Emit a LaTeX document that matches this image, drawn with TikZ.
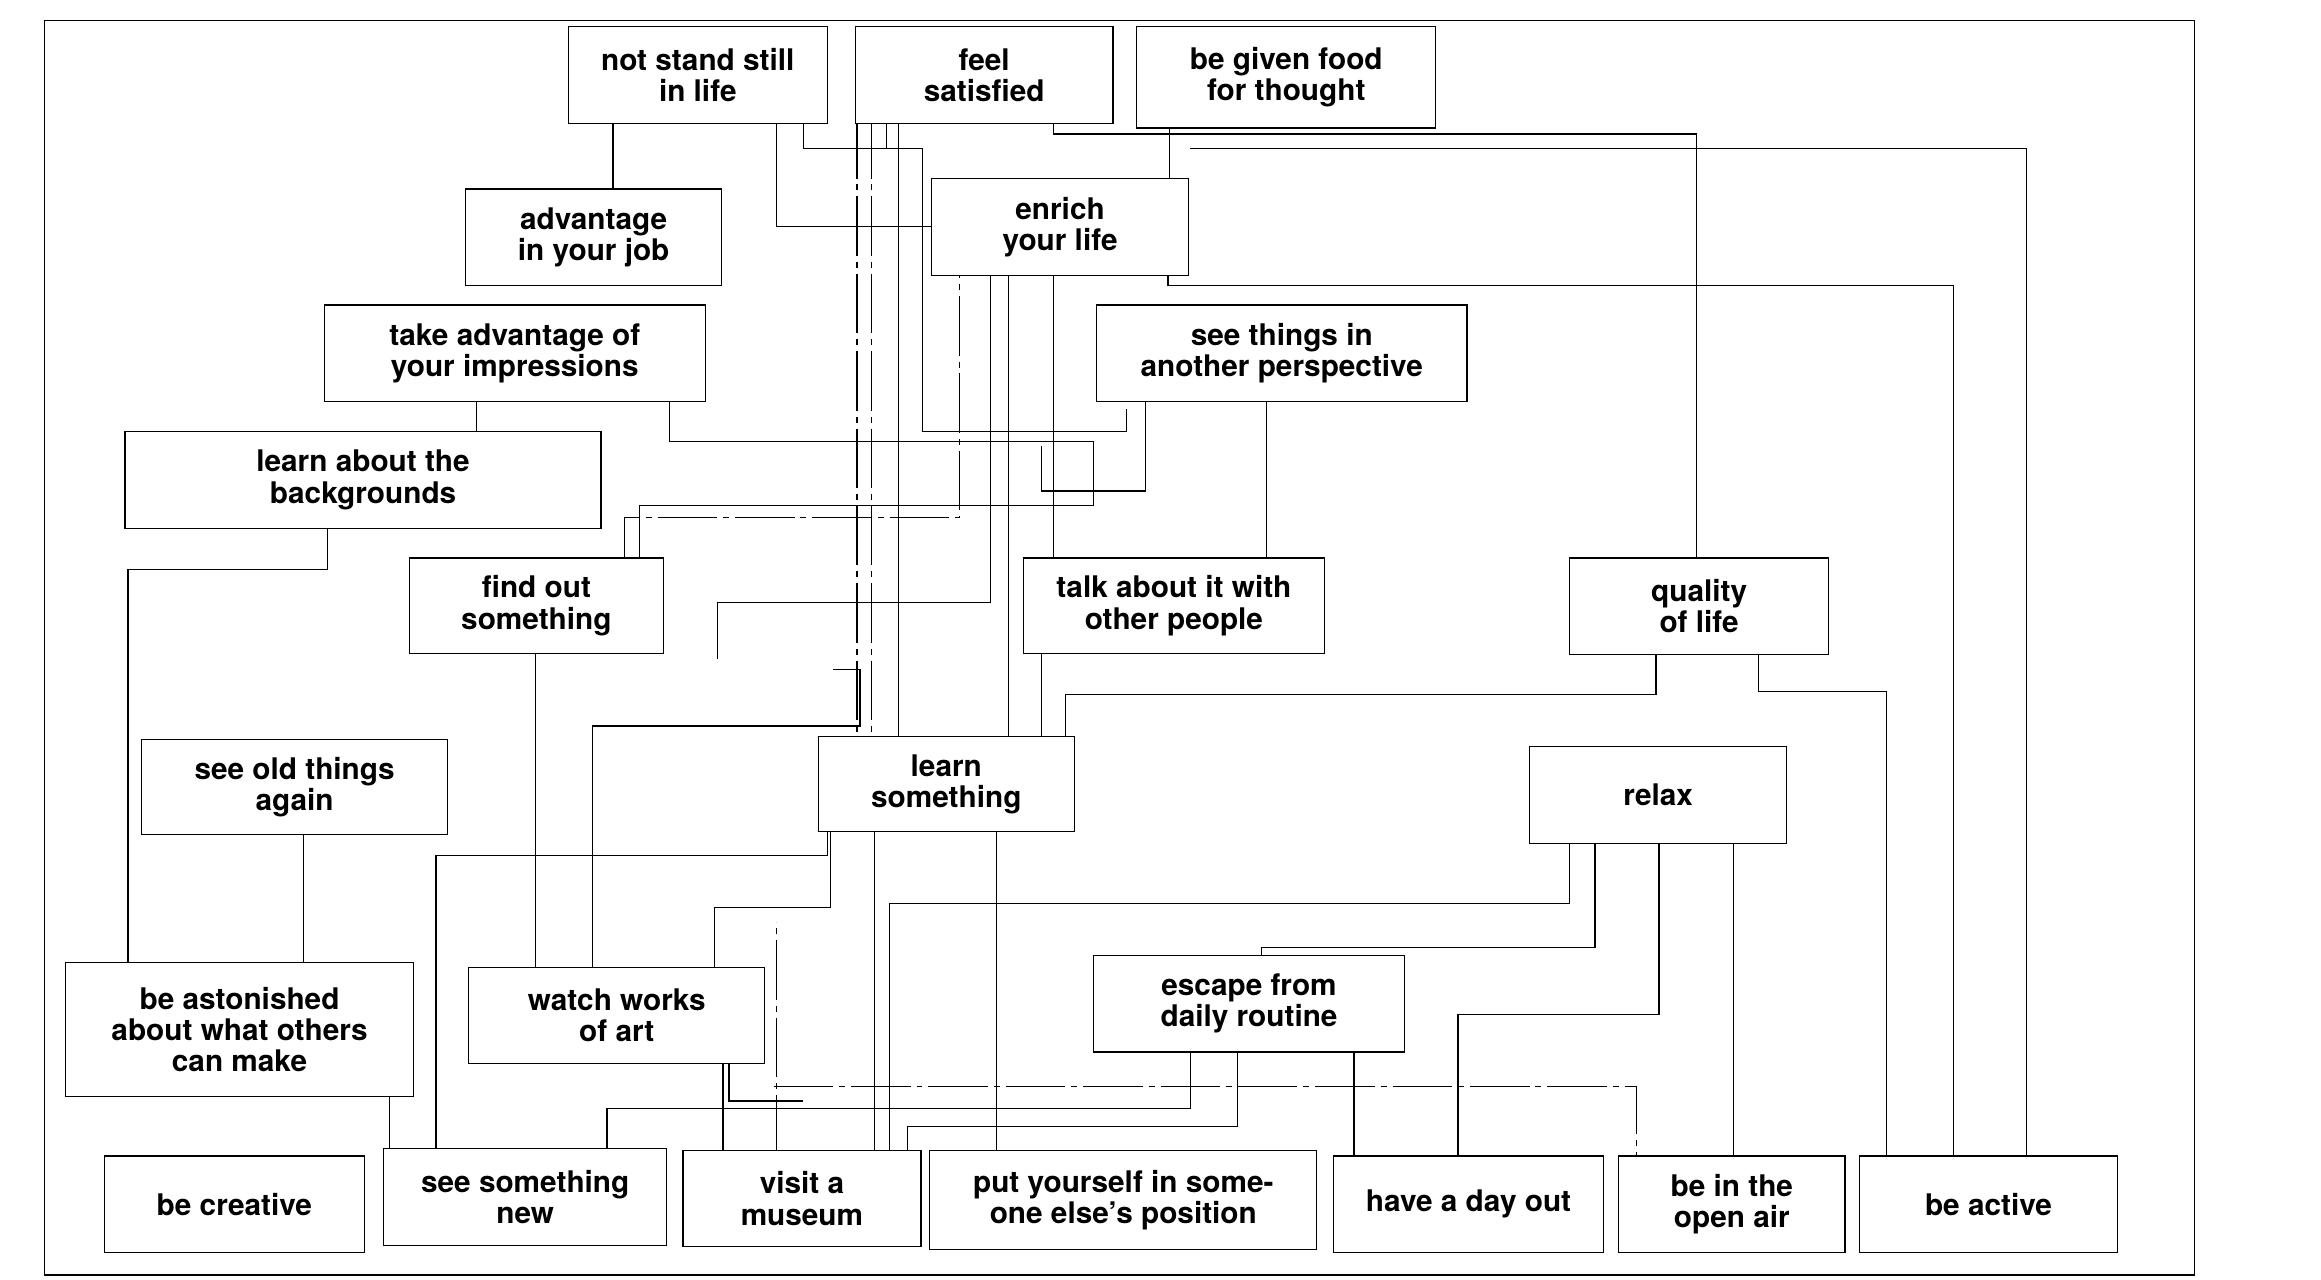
\documentclass[tikz,border=0pt]{standalone}
\usepackage{fontspec}
\setmainfont{TeX Gyre Heros}
\begin{document}
\begin{tikzpicture}[x=1pt,y=-1pt,
 box/.style={draw,thick,fill=white,align=center,font=\bfseries\fontsize{20}{21}\selectfont,inner sep=2pt},
 ln/.style={thick},
 dl/.style={thick,dash pattern=on 40pt off 4pt on 4pt off 4pt}]
\useasboundingbox (0,0) rectangle (1560,860);
\draw[thick] (30,14) rectangle (1475,857);
% connectors (drawn under nodes)
\draw[ln] (412,80) -- (412,130);
\draw[ln] (522,80) -- (522,152) -- (630,152);
\draw[dl] (576,80) -- (576,498);
\draw[dl] (586,80) -- (586,498);
\draw[ln] (540,80) -- (540,100) -- (620,100) -- (620,290) -- (757,290) -- (757,275);
\draw[ln] (604,80) -- (604,498);
\draw[ln] (596,80) -- (596,100);
\draw[ln] (708,80) -- (708,90) -- (1140,90) -- (1140,378);
\draw[ln] (786,83) -- (786,123);
\draw[ln] (800,100) -- (1362,100) -- (1362,780);
\draw[ln] (785,182) -- (785,192) -- (1313,192) -- (1313,780);
\draw[ln] (320,267) -- (320,293);
\draw[ln] (220,352) -- (220,383) -- (86,383) -- (86,650);
\draw[ln] (204,558) -- (204,650);
\draw[ln] (360,436) -- (360,653);
\draw[ln] (670,556) -- (670,776);
\draw[ln] (588,556) -- (588,776);
\draw[ln] (1113,437) -- (1113,467) -- (716,467) -- (716,498);
\draw[ln] (1182,437) -- (1182,465) -- (1268,465) -- (1268,780);
\draw[ln] (1055,564) -- (1055,607) -- (598,607) -- (598,776);
\draw[ln] (1072,564) -- (1072,637) -- (848,637) -- (848,645);
\draw[ln] (1115,564) -- (1115,682) -- (980,682) -- (980,780);
\draw[ln] (1165,564) -- (1165,780);
\draw[ln] (832,704) -- (832,757) -- (610,757) -- (610,776);
\draw[ln] (910,704) -- (910,780);
\draw[ln] (262,734) -- (262,775);
\draw[ln] (293,775) -- (293,575) -- (556,575) -- (556,556);
\draw[ln] (408,775) -- (408,745) -- (800,745) -- (800,704);
\draw[dl] (520,730) -- (1100,730) -- (1100,780);
\draw[ln] (398,653) -- (398,488) -- (578,488)-- (578,450) -- (560,450);
\draw[ln] (482,443) -- (482,405) -- (666,405) -- (666,182);
\draw[ln] (708,378) -- (708,182);
\draw[ln] (700,436) -- (700,498);
\draw[ln] (678,182) -- (678,498);
\draw[ln] (851,267) -- (851,378);
\draw[ln] (770,267) -- (770,330) -- (700,330) -- (700,300);
\draw[ln] (450,267) -- (450,297) -- (735,297) -- (735,340) -- (430,340) -- (430,378);
\draw[dl] (420,378) -- (420,348) -- (645,348) -- (645,185);
\draw[ln] (480,653) -- (480,610) -- (558,610) -- (558,556);
\draw[ln] (486,776) -- (486,712);
\draw[dl] (522,776) -- (522,620);
\draw[ln] (490,712) -- (490,740) -- (540,740);
% nodes
\node[box,minimum width=174pt,minimum height=65pt] (stand) at (469,50.5) {not stand still\\in life};
\node[box,minimum width=173pt,minimum height=65pt] (feel) at (661.5,50.5) {feel\\satisfied};
\node[box,minimum width=201pt,minimum height=68pt] (food) at (864.5,52) {be given food\\for thought};
\node[box,minimum width=172pt,minimum height=65pt] (adv) at (399,159.5) {advantage\\in your job};
\node[box,minimum width=173pt,minimum height=65pt] (enrich) at (712.5,152.5) {enrich\\your life};
\node[box,minimum width=256pt,minimum height=65pt] (take) at (346,237.5) {take advantage of\\your impressions};
\node[box,minimum width=249pt,minimum height=65pt] (see) at (861.5,237.5) {see things in\\another perspective};
\node[box,minimum width=320pt,minimum height=65pt] (learnab) at (244,322.5) {learn about the\\backgrounds};
\node[box,minimum width=171pt,minimum height=64pt] (find) at (360.5,407) {find out\\something};
\node[box,minimum width=202pt,minimum height=64pt] (talk) at (789,407) {talk about it with\\other people};
\node[box,minimum width=174pt,minimum height=65pt] (quality) at (1142,407.5) {quality\\of life};
\node[box,minimum width=206pt,minimum height=64pt] (old) at (198,529) {see old things\\again};
\node[box,minimum width=172pt,minimum height=64pt] (learns) at (636,527) {learn\\something};
\node[box,minimum width=173pt,minimum height=65pt] (relax) at (1114.5,534.5) {relax};
\node[box,minimum width=234pt,minimum height=90pt] (aston) at (161,692) {be astonished\\about what others\\can make};
\node[box,minimum width=199pt,minimum height=65pt] (watch) at (414.5,682.5) {watch works\\of art};
\node[box,minimum width=209pt,minimum height=65pt] (escape) at (839.5,674.5) {escape from\\daily routine};
\node[box,minimum width=175pt,minimum height=65pt] (creative) at (157.5,809.5) {be creative};
\node[box,minimum width=190pt,minimum height=65pt] (new) at (353,804.5) {see something\\new};
\node[box,minimum width=160pt,minimum height=65pt] (museum) at (539,805.5) {visit a\\museum};
\node[box,minimum width=260pt,minimum height=67pt] (put) at (755,806.5) {put yourself in some-\\one else's position};
\node[box,minimum width=182pt,minimum height=65pt] (day) at (987,809.5) {have a day out};
\node[box,minimum width=152pt,minimum height=65pt] (air) at (1164,809.5) {be in the\\open air};
\node[box,minimum width=173pt,minimum height=65pt] (active) at (1336.5,809.5) {be active};
\end{tikzpicture}
\end{document}
